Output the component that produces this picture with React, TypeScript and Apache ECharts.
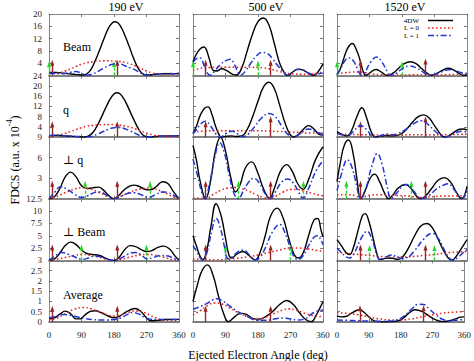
import React, { useEffect, useRef } from 'react';
import * as echarts from 'echarts';

type Pts = [number, number][];

const SERIF = "'Liberation Serif', 'DejaVu Serif', 'Times New Roman', serif";

const energies = ['190 eV', '500 eV', '1520 eV'];
const rowNames = ['Beam', 'q', '\u22A5 q', '\u22A5 Beam', 'Average'];
const yMax = [20, 24, 9, 12.5, 3];
const yStep = [4, 4, 3, 2.5, 0.5];
const legendNames = ['4DW', 'L = 0', 'L = 1'];

// ---------- Row 1: Beam ----------
const beam190_4dw: Pts = [[0,1.0],[20,1.0],[40,0.8],[60,0.5],[80,0.3],[95,0.2],[105,0.6],[115,1.8],[125,4.0],[135,6.8],[145,9.8],[155,12.8],[165,15.5],[175,17.1],[183,17.5],[192,17.0],[202,15.2],[212,12.5],[222,9.5],[232,6.3],[242,3.5],[252,1.5],[262,0.4],[272,0.2],[290,0.4],[310,0.6],[330,0.6],[345,0.6],[360,0.8]];
const beam190_l0: Pts = [[0,0.8],[15,0.8],[30,1.0],[45,1.5],[60,2.2],[75,3.0],[90,3.7],[105,4.2],[120,4.5],[135,4.7],[150,4.8],[165,4.8],[180,4.7],[195,4.6],[210,4.3],[225,3.8],[240,3.1],[255,2.3],[270,1.5],[285,0.9],[300,0.6],[315,0.5],[330,0.4],[345,0.4],[360,0.5]];
const beam190_l1: Pts = [[0,0.8],[15,0.7],[30,0.6],[45,0.7],[60,1.1],[75,1.3],[90,0.7],[105,0.1],[120,0.5],[135,1.3],[150,2.3],[165,3.2],[180,3.8],[195,3.8],[210,3.2],[225,2.5],[240,1.8],[255,0.8],[270,0.2],[285,0.3],[300,0.5],[315,0.6],[330,0.7],[345,0.6],[360,0.6]];

const beam500_4dw: Pts = [[0,4.5],[15,8],[30,9.3],[45,5.5],[55,1.8],[65,1.5],[80,2.2],[95,1.5],[110,0.4],[120,0.2],[135,2.5],[150,8],[165,13.5],[180,17.5],[195,18.7],[210,16.5],[225,10.5],[240,4],[255,0.5],[262,0],[275,1.0],[290,2.1],[305,1.8],[320,0.7],[335,0.1],[345,1.0],[360,3.8]];
const beam500_l0: Pts = [[0,1.6],[15,2.2],[30,2.5],[45,2.6],[60,2.7],[90,2.7],[120,2.7],[150,2.7],[180,2.6],[195,2.5],[210,2.2],[225,1.8],[240,1.3],[255,0.9],[270,0.6],[285,0.5],[300,0.4],[315,0.4],[330,0.5],[345,0.8],[360,1.2]];
const beam500_l1: Pts = [[0,4.3],[10,5.5],[20,5.7],[30,3.5],[40,0.8],[48,0.1],[60,1.5],[75,3.5],[90,4.8],[103,5.3],[115,3.5],[125,1.0],[132,0.1],[145,1.5],[160,4.0],[175,6.3],[190,7.5],[205,7.2],[220,5.5],[235,3.2],[250,1.2],[262,0.2],[275,1.0],[290,2.0],[305,1.8],[320,0.8],[335,0.4],[350,0.6],[360,0.8]];

const beam1520_4dw: Pts = [[0,0.3],[10,2.5],[20,6],[30,9],[42,10.4],[55,8],[65,4.5],[72,1.5],[80,0.1],[92,1.0],[108,2.0],[122,1.2],[135,0.2],[142,0.1],[155,0.8],[170,2.3],[185,3.8],[203,4.5],[220,3.8],[235,2.2],[250,0.7],[263,0.1],[275,0.6],[290,1.6],[308,2.4],[325,1.7],[340,0.6],[352,0.1],[360,0.2]];
const beam1520_l0: Pts = [[0,0.6],[20,0.9],[40,1.1],[60,1.2],[80,0.9],[100,0.5],[120,0.3],[150,0.2],[180,0.2],[210,0.3],[240,0.3],[270,0.3],[300,0.3],[330,0.4],[360,0.5]];
const beam1520_l1: Pts = [[0,0.3],[10,2.2],[20,4.5],[32,5.8],[45,4.8],[57,2.2],[67,0.2],[78,1.2],[92,4.2],[110,6.0],[125,4.3],[140,1.2],[150,0.1],[165,0.8],[180,2.2],[200,3.1],[220,2.5],[240,1.0],[255,0.1],[270,0.4],[290,1.3],[310,1.9],[330,1.5],[345,0.9],[360,0.7]];

// ---------- Row 2: q ----------
const q190_4dw: Pts = [[0,0.6],[20,0.7],[40,0.6],[60,0.4],[80,0.2],[98,0.1],[110,0.5],[120,1.6],[130,3.6],[140,6.3],[150,9.3],[160,12.3],[170,15.0],[180,16.8],[188,17.3],[197,16.8],[207,15.0],[217,12.3],[227,9.2],[237,6.2],[247,3.4],[257,1.3],[267,0.3],[277,0.1],[295,0.3],[315,0.5],[335,0.5],[360,0.6]];
const q190_l0: Pts = [[0,0.5],[15,0.7],[30,1.0],[45,1.5],[60,2.2],[75,3.0],[90,3.7],[105,4.3],[120,4.6],[135,4.8],[150,4.9],[165,4.9],[180,4.9],[195,4.7],[210,4.4],[225,3.9],[240,3.2],[255,2.4],[270,1.6],[285,1.0],[300,0.6],[315,0.5],[330,0.4],[345,0.4],[360,0.5]];
const q190_l1: Pts = [[0,0.7],[15,0.8],[30,0.7],[45,0.5],[60,0.4],[75,0.3],[90,0.2],[105,0.1],[120,0.4],[135,1.2],[150,2.2],[165,3.1],[180,3.7],[195,3.8],[210,3.3],[225,2.4],[240,1.4],[255,0.5],[270,0.1],[285,0.2],[300,0.4],[315,0.5],[330,0.5],[345,0.5],[360,0.6]];

const q500_4dw: Pts = [[0,1.5],[10,4.5],[20,8.5],[32,11.3],[42,11.8],[52,9],[62,4.5],[72,1],[78,0],[90,0.3],[105,0.5],[120,0.3],[135,0.5],[150,3],[165,8],[180,14],[195,19.5],[210,21.4],[225,19],[240,12.5],[255,5.5],[268,1.2],[278,0.1],[290,0.8],[305,3.0],[320,4.5],[335,3.2],[348,1.2],[360,0.8]];
const q500_l0: Pts = [[0,2.0],[30,2.4],[60,2.5],[90,2.5],[120,2.5],[150,2.5],[180,2.5],[210,2.4],[240,2.2],[270,2.0],[300,1.8],[330,1.6],[360,1.6]];
const q500_l1: Pts = [[0,1.3],[10,3],[20,5],[34,6.2],[48,4.5],[62,1.5],[76,0.1],[92,1.5],[108,2.3],[125,1.2],[140,0.2],[155,1.5],[170,4],[190,7.5],[210,9.2],[228,8],[245,4.5],[262,1.2],[278,0.1],[295,1.2],[320,3.2],[340,2.2],[360,1.0]];

const q1520_4dw: Pts = [[0,2.2],[15,1.0],[28,0.5],[40,2.5],[55,8],[69,11.5],[82,7.5],[95,2],[106,0.1],[120,0.4],[135,0.6],[150,0.5],[165,0.6],[180,1.5],[195,3.5],[210,6],[225,8],[240,8.7],[255,7.5],[270,4.5],[285,1.5],[298,0.1],[310,0.5],[325,2],[340,3.1],[350,3.2],[360,2.8]];
const q1520_l0: Pts = [[0,1.2],[60,1.0],[120,0.9],[180,0.9],[240,1.0],[300,1.0],[360,1.2]];
const q1520_l1: Pts = [[0,1.5],[15,0.8],[28,0.4],[45,2.2],[65,4.5],[82,3.0],[98,0.4],[110,0.2],[125,0.8],[140,1.2],[155,1.0],[170,1.5],[190,3.0],[215,5.5],[235,6.4],[252,5.0],[270,2.5],[290,0.5],[300,0.1],[315,0.8],[335,2.0],[350,2.3],[360,2.0]];

// ---------- Row 3: perpendicular to q ----------
const perpQ190_4dw: Pts = [[0,0],[15,0.3],[30,1.5],[45,3.2],[60,3.9],[75,3.2],[90,1.9],[105,1.5],[120,1.6],[137,1.7],[150,1.3],[165,0.5],[179,0.0],[195,0.6],[210,1.4],[225,1.9],[235,2.0],[250,1.8],[265,1.4],[280,1.3],[295,1.7],[315,2.5],[330,2.2],[345,1.0],[360,0.0]];
const perpQ190_l0: Pts = [[0,0],[20,0.3],[45,0.9],[70,1.4],[90,1.6],[110,1.5],[135,1.0],[160,0.4],[180,0.05],[200,0.4],[225,1.0],[250,1.4],[270,1.6],[290,1.5],[315,1.0],[340,0.4],[360,0]];
const perpQ190_l1: Pts = [[0,0],[15,0.9],[32,1.75],[50,1.4],[70,0.7],[90,0.2],[105,0.4],[125,0.9],[140,1.0],[160,0.5],[180,0.0],[200,0.4],[220,0.8],[235,0.9],[255,0.6],[275,0.2],[295,0.6],[315,1.0],[330,0.9],[345,0.5],[360,0]];

const perpQ500_4dw: Pts = [[0,7.8],[10,5.5],[20,2.5],[35,0.0],[50,3],[62,7],[76,9.0],[90,7],[105,3],[118,1.0],[130,2],[145,4.5],[162,5.4],[178,4.0],[195,1.5],[212,0.1],[225,1.5],[242,4.0],[259,5.0],[275,4.0],[290,2.2],[305,1.4],[320,2.8],[340,5.8],[360,7.6]];
const perpQ500_l0: Pts = [[0,0.1],[20,0.05],[35,0.0],[55,0.6],[75,1.2],[95,1.55],[115,1.65],[135,1.5],[155,1.1],[175,0.6],[195,0.2],[212,0.0],[230,0.4],[250,1.0],[270,1.35],[290,1.35],[310,1.1],[330,0.8],[345,0.6],[360,0.45]];
const perpQ500_l1: Pts = [[0,5.8],[12,3.5],[25,0.8],[33,0.0],[45,2.0],[60,6.0],[74,8.2],[88,6.5],[102,3],[115,0.6],[125,0.0],[140,1.2],[155,2.5],[168,3.0],[185,2.2],[200,0.7],[213,0.0],[228,1.0],[245,2.4],[262,2.9],[278,2.3],[292,1.0],[305,0.1],[320,1.5],[340,4.0],[360,5.6]];

const perpQ1520_4dw: Pts = [[0,2.5],[10,5.5],[20,7.8],[32,8.6],[45,6.5],[55,3],[66,0.0],[78,1.2],[92,3.0],[104,3.6],[118,2.5],[132,0.8],[143,0.0],[155,0.6],[170,1.6],[189,2.1],[205,1.5],[220,0.4],[232,0.0],[245,0.4],[262,1.5],[280,2.7],[297,3.1],[315,2.4],[330,1.0],[345,0.0],[360,1.8]];
const perpQ1520_l0: Pts = [[0,0.6],[30,0.6],[50,0.5],[66,0.2],[90,0.5],[120,0.6],[160,0.5],[200,0.4],[230,0.2],[260,0.3],[300,0.4],[330,0.4],[360,0.5]];
const perpQ1520_l1: Pts = [[0,1.2],[10,3.2],[20,5.0],[28,5.7],[40,4.8],[52,2.5],[66,0.0],[80,1.5],[95,4.5],[112,6.6],[125,5.0],[138,2.0],[150,0.1],[165,0.8],[180,1.8],[193,2.1],[210,1.3],[225,0.3],[235,0.0],[255,0.5],[275,1.4],[295,2.0],[308,2.2],[322,1.5],[338,0.4],[348,0.1],[360,1.2]];

// ---------- Row 4: perpendicular to beam ----------
const perpB190_4dw: Pts = [[0,0],[15,0.3],[30,1.5],[45,3.0],[60,3.7],[75,3.2],[90,2.1],[105,1.4],[120,1.2],[140,1.0],[155,0.5],[170,0.05],[180,0.0],[195,0.7],[210,2.2],[225,3.0],[240,2.8],[255,2.2],[270,1.8],[285,2.0],[300,2.6],[318,2.9],[335,2.2],[350,0.8],[360,0.1]];
const perpB190_l0: Pts = [[0,0],[20,0.2],[45,0.6],[70,1.0],[90,1.2],[110,1.1],[135,0.7],[160,0.2],[180,0.0],[200,0.2],[225,0.7],[250,1.1],[270,1.2],[290,1.1],[315,0.7],[340,0.2],[360,0]];
const perpB190_l1: Pts = [[0,0],[15,0.8],[35,1.6],[55,1.2],[75,0.6],[92,0.2],[110,0.5],[128,0.9],[145,0.7],[165,0.2],[180,0],[200,0.5],[220,1.3],[238,1.6],[255,1.1],[272,0.3],[290,0.6],[310,1.0],[330,0.9],[345,0.4],[360,0]];

const perpB500_4dw: Pts = [[0,5.0],[10,2.8],[20,0.8],[28,0.2],[38,2.0],[50,7],[64,11.5],[78,9],[90,4.5],[100,1.0],[108,0.5],[120,1.2],[138,1.8],[155,1.0],[172,0.1],[185,1.5],[200,5],[215,9],[233,10.6],[250,8.5],[265,4.5],[280,1.2],[292,0.5],[305,1.5],[320,5],[335,8.2],[345,8.5],[355,6],[360,4.8]];
const perpB500_l0: Pts = [[0,0.3],[30,0.15],[60,0.1],[90,0.2],[120,0.4],[150,0.7],[180,1.1],[210,1.6],[240,2.1],[265,2.5],[290,2.5],[320,2.3],[345,2.0],[360,1.9]];
const perpB500_l1: Pts = [[0,3.0],[10,1.8],[20,0.5],[28,0.0],[40,2.0],[52,6],[64,8.5],[76,6.5],[88,2.5],[98,0.3],[110,0.8],[125,1.8],[140,2.1],[155,1.2],[170,0.1],[185,0.6],[200,2.5],[220,5.8],[240,7.3],[255,5.5],[270,2.5],[283,0.4],[292,0.2],[305,1.0],[320,3.0],[335,4.7],[345,5.0],[355,4.0],[360,3.2]];

const perpB1520_4dw: Pts = [[0,4.2],[12,3.0],[25,1.6],[35,1.2],[45,2.5],[58,6],[70,9],[78,9.5],[88,8],[100,4.5],[110,1.5],[118,0.2],[128,0.3],[140,0.5],[155,0.4],[170,0.2],[185,1.0],[200,2.8],[215,5],[232,7],[249,7.5],[265,6.5],[280,4.3],[295,2],[308,0.5],[318,0.05],[330,0.8],[345,2.5],[360,4.2]];
const perpB1520_l0: Pts = [[0,1.6],[30,1.4],[60,1.2],[90,1.0],[120,0.8],[150,0.7],[180,0.7],[210,0.8],[240,1.0],[270,1.2],[300,1.5],[330,1.7],[360,1.8]];
const perpB1520_l1: Pts = [[0,2.5],[12,1.6],[25,0.7],[35,0.5],[48,1.5],[65,4.2],[83,5.9],[98,4],[110,1.2],[120,0.1],[135,0.6],[150,1.1],[165,0.8],[180,0.4],[195,0.6],[215,2],[240,4.3],[263,5.5],[280,4.5],[298,2],[312,0.4],[322,0.0],[335,0.6],[350,1.6],[360,2.2]];

// ---------- Row 5: Average ----------
const avg190_4dw: Pts = [[0,0.15],[15,0.2],[30,0.38],[45,0.53],[60,0.4],[75,0.15],[85,0.15],[100,0.35],[115,0.52],[128,0.55],[145,0.45],[165,0.28],[180,0.21],[195,0.28],[215,0.5],[238,0.66],[255,0.5],[270,0.2],[282,0.06],[300,0.08],[320,0.12],[340,0.13],[360,0.13]];
const avg190_l0: Pts = [[0,0.1],[20,0.18],[45,0.4],[70,0.62],[96,0.71],[120,0.62],[145,0.45],[165,0.33],[180,0.29],[200,0.35],[222,0.48],[243,0.54],[265,0.45],[290,0.25],[315,0.1],[340,0.07],[360,0.08]];
const avg190_l1: Pts = [[0,0.2],[20,0.28],[40,0.36],[60,0.32],[80,0.24],[100,0.17],[120,0.12],[140,0.1],[160,0.1],[180,0.12],[200,0.2],[215,0.35],[232,0.46],[250,0.38],[265,0.22],[280,0.14],[300,0.12],[320,0.12],[340,0.12],[360,0.12]];

const avg500_4dw: Pts = [[0,1.0],[12,1.8],[25,2.5],[40,2.78],[55,2.3],[70,1.3],[85,0.4],[98,0.02],[112,0.2],[125,0.38],[136,0.42],[150,0.35],[170,0.15],[185,0.14],[200,0.25],[220,0.5],[240,0.85],[260,1.05],[278,0.85],[295,0.45],[312,0.12],[328,0.02],[340,0.3],[352,0.7],[360,1.0]];
const avg500_l0: Pts = [[0,0.35],[20,0.55],[40,0.8],[60,0.93],[80,0.88],[100,0.7],[120,0.5],[145,0.3],[165,0.18],[180,0.15],[200,0.22],[225,0.42],[248,0.58],[265,0.64],[285,0.58],[310,0.42],[335,0.3],[360,0.26]];
const avg500_l1: Pts = [[0,0.62],[20,0.75],[40,0.92],[55,1.08],[66,1.13],[80,1.05],[100,0.8],[120,0.55],[140,0.35],[160,0.18],[176,0.08],[200,0.08],[225,0.15],[250,0.2],[270,0.15],[290,0.1],[310,0.15],[325,0.35],[340,0.5],[360,0.58]];

const avg1520_4dw: Pts = [[0,0.3],[12,0.25],[25,0.27],[40,0.42],[55,0.56],[64,0.6],[78,0.45],[92,0.22],[105,0.06],[115,0.02],[135,0.01],[160,0.02],[180,0.1],[195,0.3],[210,0.52],[222,0.6],[240,0.52],[260,0.3],[280,0.1],[300,0.02],[315,0.05],[335,0.15],[350,0.24],[360,0.25]];
const avg1520_l0: Pts = [[0,0.45],[30,0.42],[60,0.35],[90,0.25],[120,0.15],[150,0.1],[180,0.1],[210,0.15],[240,0.25],[270,0.35],[300,0.43],[330,0.48],[360,0.5]];
const avg1520_l1: Pts = [[0,0.1],[30,0.08],[60,0.06],[90,0.05],[120,0.04],[150,0.05],[170,0.1],[190,0.3],[210,0.6],[230,0.86],[245,0.85],[260,0.65],[280,0.35],[300,0.12],[315,0.06],[330,0.08],[345,0.1],[360,0.12]];

// ---------- direction arrows: [angle, length] ----------
const redArrows: Pts[][] = [
  [[[9, 4.2], [189, 4.2]], [[35, 4.2], [215, 4.2]], [[65, 4.2], [245, 4.6]]],
  [[[9, 5], [189, 5]], [[35, 5], [215, 7]], [[65, 5], [245, 7]]],
  [[[9, 2.2], [189, 2.2]], [[35, 2.2], [215, 2.2]], [[65, 2.2], [245, 2.2]]],
  [[[9, 2.6], [189, 2.6]], [[35, 2.6], [215, 2.6]], [[65, 2.6], [245, 2.6]]],
  [[[9, 0.65], [189, 0.65]], [[35, 0.65], [215, 0.65]], [[65, 0.67], [245, 0.67]]],
];
const greenArrows: Pts[][] = [
  [[[0, 3.7], [180, 3.8]], [[0, 3.7], [180, 3.9]], [[0, 3.7], [180, 3.7]]],
  [[], [], []],
  [[[100, 2.2], [280, 2.2]], [[126, 2.2], [306, 2.2]], [[26, 2.2], [206, 2.2]]],
  [[[90, 2.6], [270, 2.6]], [[90, 2.6], [270, 2.6]], [[90, 2.5], [270, 2.5]]],
  [[], [], []],
];

const curves: Pts[][][] = [
  [[beam190_4dw, beam190_l0, beam190_l1], [beam500_4dw, beam500_l0, beam500_l1], [beam1520_4dw, beam1520_l0, beam1520_l1]],
  [[q190_4dw, q190_l0, q190_l1], [q500_4dw, q500_l0, q500_l1], [q1520_4dw, q1520_l0, q1520_l1]],
  [[perpQ190_4dw, perpQ190_l0, perpQ190_l1], [perpQ500_4dw, perpQ500_l0, perpQ500_l1], [perpQ1520_4dw, perpQ1520_l0, perpQ1520_l1]],
  [[perpB190_4dw, perpB190_l0, perpB190_l1], [perpB500_4dw, perpB500_l0, perpB500_l1], [perpB1520_4dw, perpB1520_l0, perpB1520_l1]],
  [[avg190_4dw, avg190_l0, avg190_l1], [avg500_4dw, avg500_l0, avg500_l1], [avg1520_4dw, avg1520_l0, avg1520_l1]],
];

const COLORS = ['#000000', '#e3211c', '#2037d2'];
const DASHES: any[] = ['solid', [1.6, 2.4], [6, 2.5, 1.6, 2.5]];
const RED_ARROW = '#9a2424';
const GREEN_ARROW = '#22d822';

function buildOption() {
  const colLeft = [49, 193, 337];
  const colW = 130;
  const top0 = 14;
  const rowH = 61.6;
  const grid: any[] = [];
  const xAxis: any[] = [];
  const yAxis: any[] = [];
  const series: any[] = [];
  const graphic: any[] = [];

  for (let r = 0; r < 5; r++) {
    for (let c = 0; c < 3; c++) {
      const idx = r * 3 + c;
      grid.push({ left: colLeft[c], top: top0 + r * rowH, width: colW, height: rowH, containLabel: false });
      const tick = { show: true, inside: true, length: 3, lineStyle: { color: '#777', width: 1 } };
      xAxis.push({
        gridIndex: idx, type: 'value', min: 0, max: 360, interval: 90, position: 'bottom',
        axisLine: { show: true, onZero: false, lineStyle: { color: '#555', width: 1.6 } },
        axisTick: tick,
        axisLabel: { show: r === 4, fontSize: 9, fontFamily: SERIF, color: '#222', margin: 8 },
        splitLine: { show: false },
      });
      xAxis.push({
        gridIndex: idx, type: 'value', min: 0, max: 360, interval: 90, position: 'top',
        axisLine: { show: true, onZero: false, lineStyle: { color: '#888', width: 1 } },
        axisTick: tick, axisLabel: { show: false }, splitLine: { show: false },
      });
      yAxis.push({
        gridIndex: idx, type: 'value', min: 0, max: yMax[r], interval: yStep[r], position: 'left',
        axisLine: { show: true, onZero: false, lineStyle: { color: '#888', width: 1 } },
        axisTick: tick,
        axisLabel: {
          show: c === 0, fontSize: 9, fontFamily: SERIF, color: '#222', margin: 7,
          showMinLabel: true, showMaxLabel: true,
          formatter: (v: number) => (v === 0 && r < 4 ? '' : String(v)),
        },
        splitLine: { show: false },
      });
      yAxis.push({
        gridIndex: idx, type: 'value', min: 0, max: yMax[r], interval: yStep[r], position: 'right',
        axisLine: { show: true, onZero: false, lineStyle: { color: '#888', width: 1 } },
        axisTick: tick, axisLabel: { show: false }, splitLine: { show: false },
      });

      const set = curves[r][c];
      for (let k = 0; k < 3; k++) {
        const s: any = {
          type: 'line', name: legendNames[k], xAxisIndex: idx * 2, yAxisIndex: idx * 2,
          data: set[k], showSymbol: false, symbol: 'none', smooth: 0.45, silent: true,
          lineStyle: { color: COLORS[k], width: k === 0 ? 1.4 : 1.5, type: DASHES[k] },
          z: 3 + k,
        };
        if (k === 2) {
          const md: any[] = [];
          redArrows[r][c].forEach(([a, h]) => {
            md.push([
              { coord: [a, 0], symbol: 'none', lineStyle: { color: RED_ARROW, width: 1.4, type: 'solid' } },
              { coord: [a, h], symbol: 'triangle' },
            ]);
          });
          greenArrows[r][c].forEach(([a, h]) => {
            md.push([
              { coord: [a, 0], symbol: 'none', lineStyle: { color: GREEN_ARROW, width: 1.4, type: [3, 2] } },
              { coord: [a, h], symbol: 'triangle' },
            ]);
          });
          s.markLine = {
            silent: true, animation: false, symbol: ['none', 'triangle'], symbolSize: [4, 6],
            label: { show: false }, emphasis: { disabled: true }, data: md,
          };
        }
        series.push(s);
      }
    }
  }

  // column titles
  const titleX = [126, 266, 405];
  energies.forEach((t, c) => {
    graphic.push({ type: 'text', x: titleX[c], y: 7, style: { text: t, fontSize: 12, fontFamily: SERIF, fill: '#000', align: 'center', verticalAlign: 'middle' } });
  });
  // row labels
  const rowLabelY = [47, 110, 160, 232, 295];
  rowNames.forEach((t, r) => {
    graphic.push({ type: 'text', x: 63, y: rowLabelY[r], style: { text: t, fontSize: 12, fontFamily: SERIF, fill: '#000', align: 'left', verticalAlign: 'middle' } });
  });
  // axis titles
  graphic.push({ type: 'text', x: 258, y: 355, style: { text: 'Ejected Electron Angle (deg)', fontSize: 12, fontFamily: SERIF, fill: '#000', align: 'center', verticalAlign: 'middle' } });
  graphic.push({
    type: 'text', x: 13, y: 160, rotation: Math.PI / 2,
    style: {
      text: '{a|FDCS (a.u. x 10}{s|-4}{a|)}', fill: '#000', align: 'center', verticalAlign: 'middle',
      rich: {
        a: { fontSize: 12, fontFamily: SERIF, lineHeight: 15, verticalAlign: 'bottom' },
        s: { fontSize: 8, fontFamily: SERIF, lineHeight: 15, verticalAlign: 'top' },
      },
    },
  });
  // legend
  const legY = [20.5, 28, 35.5];
  legendNames.forEach((t, k) => {
    graphic.push({ type: 'text', x: 419, y: legY[k], style: { text: t, fontSize: 7, lineHeight: 7, fontFamily: SERIF, fill: '#000', align: 'right', verticalAlign: 'middle' } });
    graphic.push({
      type: 'line', shape: { x1: 428, y1: legY[k], x2: 453, y2: legY[k] },
      style: { stroke: COLORS[k], lineWidth: 1.5, lineDash: k === 0 ? null : DASHES[k] },
    });
  });

  return { animation: false, grid, xAxis, yAxis, series, graphic };
}

export default function App() {
  const ref = useRef<HTMLDivElement>(null);
  useEffect(() => {
    document.body.style.margin = '0';
    if (!ref.current) return;
    const chart = echarts.init(ref.current, undefined, { renderer: 'svg' });
    chart.setOption(buildOption() as any);
    return () => chart.dispose();
  }, []);
  return <div ref={ref} style={{ width: 474, height: 361, background: '#fff' }} />;
}
